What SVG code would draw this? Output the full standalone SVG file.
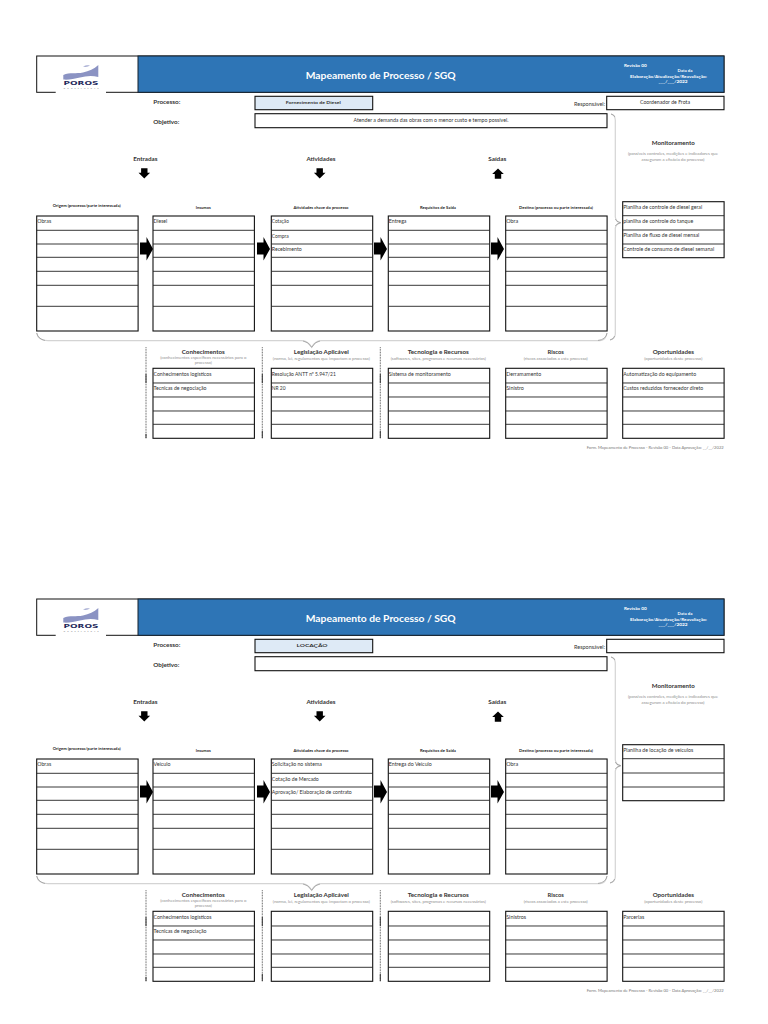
<svg xmlns="http://www.w3.org/2000/svg" width="768" height="1024" viewBox="0 0 768 1024">
<style>
text{font-family:Lato,"Open Sans","Liberation Sans",sans-serif;fill:#222}
.box{fill:#fff;stroke:#111;stroke-width:1.1}
.ln{stroke:#222;stroke-width:.9;fill:none}
.title{font-size:10px;font-weight:700;fill:#fff;text-anchor:middle}
.rev{font-size:3.7px;font-weight:700;fill:#fff;text-anchor:middle}
.lab{font-size:5.6px;font-weight:700;fill:#333}
.c{text-anchor:middle}
.cell{font-size:4.9px;fill:#333}
.val{font-size:4.7px;fill:#333;text-anchor:middle}
.col{font-size:3.5px;font-weight:700;text-anchor:middle}
.sec{font-size:5.8px;font-weight:700;fill:#333;text-anchor:middle}
.sub{font-size:3.6px;fill:#909090;text-anchor:middle}
.foot{font-size:3.6px;fill:#777;text-anchor:end}
.brace{fill:none;stroke:#d4d4d4;stroke-width:1.2}
.braceend{fill:none;stroke:#777;stroke-width:.5}
.dot{stroke:#333;stroke-width:.9;stroke-dasharray:.8 .8;fill:none}
.sol{stroke:#333;stroke-width:1;fill:none}
</style>
<defs>
<g id="t8"><rect class="box" width="101.4" height="115"/><path class="ln" d="M0 14.3H101.4M0 28H101.4M0 41.3H101.4M0 55.3H101.4M0 69.3H101.4M0 90.3H101.4"/></g>
<g id="t5"><rect class="box" width="101.4" height="70"/><path class="ln" d="M0 14.7H101.4M0 28.7H101.4M0 42.7H101.4M0 56H101.4"/></g>
<g id="t4"><rect class="box" width="101.4" height="56"/><path class="ln" d="M0 14H101.4M0 28.3H101.4M0 42.3H101.4"/></g>
<polygon id="big" fill="#000" points="0,5.5 6.5,5.5 6.5,0 13,12 6.5,23.5 6.5,17.5 0,17.5"/>
<polygon id="down" fill="#000" points="-3.2,0 3.2,0 3.2,4.5 5.8,4.5 0,10.2 -5.8,4.5 -3.2,4.5"/>
<polygon id="up" fill="#000" points="0,0 5.8,5.5 3.2,5.5 3.2,10.2 -3.2,10.2 -3.2,5.5 -5.8,5.5"/>
<g id="logo">
<path fill="#8b93c3" d="M63.3 75C70 72 76 74 83 72.5C89 71 94 69 98.3 65L98.3 77C92 75.5 86 76 80 77.5C74 79 68 80 63.3 79.5Z"/>
<path fill="#a9afd4" d="M83 66.5C85 65.2 88 65 90 65.3L88 66.6C86 67 84.5 67 83 66.5Z"/>
<text x="81" y="85" text-anchor="middle" font-size="5.4" font-weight="700" textLength="35" lengthAdjust="spacingAndGlyphs" style="font-family:'DejaVu Sans',sans-serif;fill:#1f2a5c">POROS</text>
<text x="81" y="88.6" text-anchor="middle" font-size="2.6" textLength="35" style="fill:#777">Construtora</text>
</g>
<g id="frame">
<rect x="36.7" y="56" width="687.3" height="36.3" fill="#fff" stroke="#111" stroke-width="1"/>
<rect x="138" y="56" width="586" height="36.3" fill="#2e75b6" stroke="#14202c" stroke-width="1"/>
<rect x="55.7" y="91" width="50.3" height="3" fill="#fff"/>
</g>
</defs>

<g id="page1">
<g id="p1-header">
<use href="#frame"/><use href="#logo"/>
<text class="title" x="380.7" y="78.5" textLength="150" lengthAdjust="spacingAndGlyphs">Mapeamento de Processo / SGQ</text>
<text class="rev" x="635.3" y="67" textLength="22.7" lengthAdjust="spacingAndGlyphs">Revisão 00</text>
<text class="rev" x="685" y="72.3" textLength="15" lengthAdjust="spacingAndGlyphs">Data da</text>
<text class="rev" x="668.5" y="77.6" textLength="77" lengthAdjust="spacingAndGlyphs">Elaboração/Atualização/Reavaliação:</text>
<text class="rev" x="673" y="83" textLength="29" lengthAdjust="spacingAndGlyphs">___/___/2022</text>
</g>
<g id="p1-processo">
<text class="lab" x="153.3" y="104.2" textLength="27" lengthAdjust="spacingAndGlyphs">Processo:</text>
<rect x="255" y="96.3" width="117.7" height="13.4" fill="#deeaf6" stroke="#111" stroke-width="1.1"/>
<text class="val" style="font-weight:700;font-size:4.3px" x="313.3" y="103.8" textLength="55" lengthAdjust="spacingAndGlyphs">Fornecimento de Diesel</text>
</g>
<g id="p1-objetivo">
<text class="lab" x="153.3" y="124.2" textLength="26" lengthAdjust="spacingAndGlyphs">Objetivo:</text>
<rect class="box" x="255" y="113.7" width="352" height="14"/>
<text class="val" x="431" y="121.6" textLength="155" lengthAdjust="spacingAndGlyphs">Atender a demanda das obras com o menor custo e tempo possível.</text>
</g>
<g id="p1-responsavel">
<text class="cell" x="574" y="105.7" textLength="31" lengthAdjust="spacingAndGlyphs">Responsável:</text>
<rect class="box" x="606.7" y="96.3" width="117.3" height="13.4"/>
<text class="val" x="665" y="103.6" textLength="50" lengthAdjust="spacingAndGlyphs">Coordenador de Frota</text>
</g>
<g id="p1-entradas"><text class="lab c" x="145.3" y="160.6" textLength="24.3" lengthAdjust="spacingAndGlyphs">Entradas</text><use href="#down" x="144.3" y="168.3"/></g>
<g id="p1-atividades"><text class="lab c" x="321" y="160.6" textLength="29" lengthAdjust="spacingAndGlyphs">Atividades</text><use href="#down" x="319.7" y="168.3"/></g>
<g id="p1-saidas"><text class="lab c" x="497.3" y="160.6" textLength="18" lengthAdjust="spacingAndGlyphs">Saídas</text><use href="#up" x="498" y="168.5"/></g>
<g id="p1-monitoramento">
<text class="sec" x="673.3" y="144.6" textLength="43" lengthAdjust="spacingAndGlyphs">Monitoramento</text>
<text class="sub" x="673" y="155.2" textLength="90" lengthAdjust="spacingAndGlyphs">(possíveis controles, medições e indicadores que</text>
<text class="sub" x="673" y="160.6" textLength="63" lengthAdjust="spacingAndGlyphs">asseguram a eficácia do processo)</text>
<use href="#t4" x="622.7" y="201.7"/>
<text class="cell" x="623.2" y="209" textLength="79" lengthAdjust="spacingAndGlyphs">Planilha de controle de diesel geral</text>
<text class="cell" x="623.2" y="223.3" textLength="70" lengthAdjust="spacingAndGlyphs">planilha de controle do tanque</text>
<text class="cell" x="623.2" y="237.3" textLength="76" lengthAdjust="spacingAndGlyphs">Planilha de fluxo de diesel mensal</text>
<text class="cell" x="623.2" y="251" textLength="91" lengthAdjust="spacingAndGlyphs">Controle de consumo de diesel semanal</text>
</g>
<g id="p1-origem">
<text class="col" x="86.7" y="206.6" textLength="68" lengthAdjust="spacingAndGlyphs">Origem (processo/parte interessada)</text>
<use href="#t8" x="36.7" y="216"/>
<text class="cell" x="37.2" y="223.4" textLength="14" lengthAdjust="spacingAndGlyphs">Obras</text>
</g>
<g id="p1-insumos">
<text class="col" x="203.3" y="209.3" textLength="15" lengthAdjust="spacingAndGlyphs">Insumos</text>
<use href="#t8" x="153" y="216"/>
<text class="cell" x="153.5" y="223.4" textLength="13.7" lengthAdjust="spacingAndGlyphs">Diesel</text>
</g>
<g id="p1-chave">
<text class="col" x="321" y="209.3" textLength="55" lengthAdjust="spacingAndGlyphs">Atividades chave do processo</text>
<use href="#t8" x="271.3" y="216"/>
<text class="cell" x="271.8" y="223.4" textLength="17" lengthAdjust="spacingAndGlyphs">Cotação</text>
<text class="cell" x="271.8" y="237.7" textLength="17" lengthAdjust="spacingAndGlyphs">Compra</text>
<text class="cell" x="271.8" y="251" textLength="30" lengthAdjust="spacingAndGlyphs">Recebimento</text>
</g>
<g id="p1-requisitos">
<text class="col" x="438" y="209.3" textLength="36" lengthAdjust="spacingAndGlyphs">Requisitos de Saída</text>
<use href="#t8" x="388.3" y="216"/>
<text class="cell" x="388.8" y="223.4" textLength="17.7" lengthAdjust="spacingAndGlyphs">Entrega</text>
</g>
<g id="p1-destino">
<text class="col" x="556" y="209.3" textLength="74" lengthAdjust="spacingAndGlyphs">Destino (processo ou parte interessada)</text>
<use href="#t8" x="505.7" y="216"/>
<text class="cell" x="506.2" y="223.4" textLength="12" lengthAdjust="spacingAndGlyphs">Obra</text>
</g>
<g id="p1-conhecimentos">
<text class="sec" x="203.3" y="354" textLength="43" lengthAdjust="spacingAndGlyphs">Conhecimentos</text>
<text class="sub" x="203.3" y="358.6" textLength="86" lengthAdjust="spacingAndGlyphs">(conhecimentos específicos necessários para o</text>
<text class="sub" x="203.3" y="364" textLength="17" lengthAdjust="spacingAndGlyphs">processo)</text>
<use href="#t5" x="153" y="368.3"/>
<text class="cell" x="153.5" y="376" textLength="58" lengthAdjust="spacingAndGlyphs">Conhecimentos logísticos</text>
<text class="cell" x="153.5" y="390.4" textLength="53" lengthAdjust="spacingAndGlyphs">Tecnicas de negociação</text>
</g>
<g id="p1-legislacao">
<text class="sec" x="321.3" y="354" textLength="55" lengthAdjust="spacingAndGlyphs">Legislação Aplicável</text>
<text class="sub" x="321.3" y="359.6" textLength="97" lengthAdjust="spacingAndGlyphs">(norma, lei, regulamentos que impactam o processo)</text>
<use href="#t5" x="271.3" y="368.3"/>
<text class="cell" x="271.8" y="376" textLength="64" lengthAdjust="spacingAndGlyphs">Resolução ANTT nº 5.947/21</text>
<text class="cell" x="271.8" y="390.4" textLength="13.7" lengthAdjust="spacingAndGlyphs">NR 20</text>
</g>
<g id="p1-tecnologia">
<text class="sec" x="438.3" y="354" textLength="61" lengthAdjust="spacingAndGlyphs">Tecnologia e Recursos</text>
<text class="sub" x="438.3" y="359.6" textLength="95" lengthAdjust="spacingAndGlyphs">(softwares, sites, programas e recursos necessários)</text>
<use href="#t5" x="388.3" y="368.3"/>
<text class="cell" x="388.8" y="376" textLength="62" lengthAdjust="spacingAndGlyphs">Sistema de monitoramento</text>
</g>
<g id="p1-riscos">
<text class="sec" x="555.7" y="354" textLength="16.3" lengthAdjust="spacingAndGlyphs">Riscos</text>
<text class="sub" x="555.7" y="359.6" textLength="64" lengthAdjust="spacingAndGlyphs">(riscos associados a este processo)</text>
<use href="#t5" x="505.7" y="368.3"/>
<text class="cell" x="506.2" y="376" textLength="35" lengthAdjust="spacingAndGlyphs">Derramamento</text>
<text class="cell" x="506.2" y="390.4" textLength="17.7" lengthAdjust="spacingAndGlyphs">Sinistro</text>
</g>
<g id="p1-oportunidades">
<text class="sec" x="673.3" y="354" textLength="41.3" lengthAdjust="spacingAndGlyphs">Oportunidades</text>
<text class="sub" x="673.3" y="359.6" textLength="58" lengthAdjust="spacingAndGlyphs">(oportunidades deste processo)</text>
<use href="#t5" x="622.7" y="368.3"/>
<text class="cell" x="623.2" y="376" textLength="73" lengthAdjust="spacingAndGlyphs">Automatização do equipamento</text>
<text class="cell" x="623.2" y="390.4" textLength="80" lengthAdjust="spacingAndGlyphs">Custos reduzidos fornecedor direto</text>
</g>
<text class="foot" x="723.7" y="448.9" textLength="137" lengthAdjust="spacingAndGlyphs">Form. Mapeamento de Processo - Revisão 00 - Data Aprovação: __/__/2022</text>
<g id="p1-connectors">
<use href="#big" x="140" y="237"/><use href="#big" x="257" y="237"/><use href="#big" x="374" y="237"/><use href="#big" x="491" y="237"/>
<path class="brace" d="M36.7 333Q38 340.7 48 340.7H302Q308 341 311.7 347.3Q315 341 321 340.7H600Q606 340 607 333"/>
<path class="braceend" d="M36.7 333Q38 339 45 340.4M303 341Q308 341.5 311.7 347.3Q315 341.5 320 341M598 340.4Q606 339.5 607 333"/>
<path class="brace" d="M611 114Q615 115 615.3 120V217Q616 222 620.7 222.7Q616 224 615.3 228V334Q615 339 610 340"/>
<path class="braceend" d="M611 114Q614 114.6 615 117M615.3 219Q616 222 620.7 222.7Q616 224 615.3 226M614.6 336Q614 339 610 340"/>
<path class="dot" d="M146 347.3V438.3M262.3 347.3V438.3M380.3 347.3V438.3"/>
<path class="sol" d="M146 374V383M146 434V438.3M262.3 374V383M262.3 431V438.3M380.3 374V383M380.3 431V438.3"/>
</g>
</g>

<g id="page2" transform="translate(0,543)">
<g id="p2-header">
<use href="#frame"/><use href="#logo"/>
<text class="title" x="380.7" y="78.5" textLength="150" lengthAdjust="spacingAndGlyphs">Mapeamento de Processo / SGQ</text>
<text class="rev" x="635.3" y="67" textLength="22.7" lengthAdjust="spacingAndGlyphs">Revisão 00</text>
<text class="rev" x="685" y="72.3" textLength="15" lengthAdjust="spacingAndGlyphs">Data da</text>
<text class="rev" x="668.5" y="77.6" textLength="77" lengthAdjust="spacingAndGlyphs">Elaboração/Atualização/Reavaliação:</text>
<text class="rev" x="673" y="83" textLength="29" lengthAdjust="spacingAndGlyphs">___/___/2022</text>
</g>
<g id="p2-processo">
<text class="lab" x="153.3" y="104.2" textLength="27" lengthAdjust="spacingAndGlyphs">Processo:</text>
<rect x="255" y="96.3" width="117.7" height="13.4" fill="#deeaf6" stroke="#111" stroke-width="1.1"/>
<text class="val" style="font-weight:700;font-size:3.8px" x="312" y="103.6" textLength="31" lengthAdjust="spacingAndGlyphs">LOCAÇÃO</text>
</g>
<g id="p2-objetivo">
<text class="lab" x="153.3" y="124.2" textLength="26" lengthAdjust="spacingAndGlyphs">Objetivo:</text>
<rect class="box" x="255" y="113.7" width="352" height="14"/>
</g>
<g id="p2-responsavel">
<text class="cell" x="574" y="105.7" textLength="31" lengthAdjust="spacingAndGlyphs">Responsável:</text>
<rect class="box" x="606.7" y="96.3" width="117.3" height="13.4"/>
</g>
<g id="p2-entradas"><text class="lab c" x="145.3" y="160.6" textLength="24.3" lengthAdjust="spacingAndGlyphs">Entradas</text><use href="#down" x="144.3" y="168.3"/></g>
<g id="p2-atividades"><text class="lab c" x="321" y="160.6" textLength="29" lengthAdjust="spacingAndGlyphs">Atividades</text><use href="#down" x="319.7" y="168.3"/></g>
<g id="p2-saidas"><text class="lab c" x="497.3" y="160.6" textLength="18" lengthAdjust="spacingAndGlyphs">Saídas</text><use href="#up" x="498" y="168.5"/></g>
<g id="p2-monitoramento">
<text class="sec" x="673.3" y="144.6" textLength="43" lengthAdjust="spacingAndGlyphs">Monitoramento</text>
<text class="sub" x="673" y="155.2" textLength="90" lengthAdjust="spacingAndGlyphs">(possíveis controles, medições e indicadores que</text>
<text class="sub" x="673" y="160.6" textLength="63" lengthAdjust="spacingAndGlyphs">asseguram a eficácia do processo)</text>
<use href="#t4" x="622.7" y="201.7"/>
<text class="cell" x="623.2" y="209" textLength="70" lengthAdjust="spacingAndGlyphs">Planilha de locação de veículos</text>
</g>
<g id="p2-origem">
<text class="col" x="86.7" y="206.6" textLength="68" lengthAdjust="spacingAndGlyphs">Origem (processo/parte interessada)</text>
<use href="#t8" x="36.7" y="216"/>
<text class="cell" x="37.2" y="223.4" textLength="14" lengthAdjust="spacingAndGlyphs">Obras</text>
</g>
<g id="p2-insumos">
<text class="col" x="203.3" y="209.3" textLength="15" lengthAdjust="spacingAndGlyphs">Insumos</text>
<use href="#t8" x="153" y="216"/>
<text class="cell" x="153.5" y="223.4" textLength="17" lengthAdjust="spacingAndGlyphs">Veículo</text>
</g>
<g id="p2-chave">
<text class="col" x="321" y="209.3" textLength="55" lengthAdjust="spacingAndGlyphs">Atividades chave do processo</text>
<use href="#t8" x="271.3" y="216"/>
<text class="cell" x="271.8" y="223.4" textLength="50" lengthAdjust="spacingAndGlyphs">Solicitação no sistema</text>
<text class="cell" x="271.8" y="237.7" textLength="47" lengthAdjust="spacingAndGlyphs">Cotação de Mercado</text>
<text class="cell" x="271.8" y="251" textLength="80" lengthAdjust="spacingAndGlyphs">Aprovação/ Elaboração de contrato</text>
</g>
<g id="p2-requisitos">
<text class="col" x="438" y="209.3" textLength="36" lengthAdjust="spacingAndGlyphs">Requisitos de Saída</text>
<use href="#t8" x="388.3" y="216"/>
<text class="cell" x="388.8" y="223.4" textLength="43" lengthAdjust="spacingAndGlyphs">Entrega do Veículo</text>
</g>
<g id="p2-destino">
<text class="col" x="556" y="209.3" textLength="74" lengthAdjust="spacingAndGlyphs">Destino (processo ou parte interessada)</text>
<use href="#t8" x="505.7" y="216"/>
<text class="cell" x="506.2" y="223.4" textLength="12" lengthAdjust="spacingAndGlyphs">Obra</text>
</g>
<g id="p2-conhecimentos">
<text class="sec" x="203.3" y="354" textLength="43" lengthAdjust="spacingAndGlyphs">Conhecimentos</text>
<text class="sub" x="203.3" y="358.6" textLength="86" lengthAdjust="spacingAndGlyphs">(conhecimentos específicos necessários para o</text>
<text class="sub" x="203.3" y="364" textLength="17" lengthAdjust="spacingAndGlyphs">processo)</text>
<use href="#t5" x="153" y="368.3"/>
<text class="cell" x="153.5" y="376" textLength="58" lengthAdjust="spacingAndGlyphs">Conhecimentos logísticos</text>
<text class="cell" x="153.5" y="390.4" textLength="53" lengthAdjust="spacingAndGlyphs">Tecnicas de negociação</text>
</g>
<g id="p2-legislacao">
<text class="sec" x="321.3" y="354" textLength="55" lengthAdjust="spacingAndGlyphs">Legislação Aplicável</text>
<text class="sub" x="321.3" y="359.6" textLength="97" lengthAdjust="spacingAndGlyphs">(norma, lei, regulamentos que impactam o processo)</text>
<use href="#t5" x="271.3" y="368.3"/>
</g>
<g id="p2-tecnologia">
<text class="sec" x="438.3" y="354" textLength="61" lengthAdjust="spacingAndGlyphs">Tecnologia e Recursos</text>
<text class="sub" x="438.3" y="359.6" textLength="95" lengthAdjust="spacingAndGlyphs">(softwares, sites, programas e recursos necessários)</text>
<use href="#t5" x="388.3" y="368.3"/>
</g>
<g id="p2-riscos">
<text class="sec" x="555.7" y="354" textLength="16.3" lengthAdjust="spacingAndGlyphs">Riscos</text>
<text class="sub" x="555.7" y="359.6" textLength="64" lengthAdjust="spacingAndGlyphs">(riscos associados a este processo)</text>
<use href="#t5" x="505.7" y="368.3"/>
<text class="cell" x="506.2" y="376" textLength="20" lengthAdjust="spacingAndGlyphs">Sinistros</text>
</g>
<g id="p2-oportunidades">
<text class="sec" x="673.3" y="354" textLength="41.3" lengthAdjust="spacingAndGlyphs">Oportunidades</text>
<text class="sub" x="673.3" y="359.6" textLength="58" lengthAdjust="spacingAndGlyphs">(oportunidades deste processo)</text>
<use href="#t5" x="622.7" y="368.3"/>
<text class="cell" x="623.2" y="376" textLength="21" lengthAdjust="spacingAndGlyphs">Parcerias</text>
</g>
<text class="foot" x="723.7" y="448.9" textLength="137" lengthAdjust="spacingAndGlyphs">Form. Mapeamento de Processo - Revisão 00 - Data Aprovação: __/__/2022</text>
<g id="p2-connectors">
<use href="#big" x="140" y="237"/><use href="#big" x="257" y="237"/><use href="#big" x="374" y="237"/><use href="#big" x="491" y="237"/>
<path class="brace" d="M36.7 333Q38 340.7 48 340.7H302Q308 341 311.7 347.3Q315 341 321 340.7H600Q606 340 607 333"/>
<path class="braceend" d="M36.7 333Q38 339 45 340.4M303 341Q308 341.5 311.7 347.3Q315 341.5 320 341M598 340.4Q606 339.5 607 333"/>
<path class="brace" d="M611 114Q615 115 615.3 120V217Q616 222 620.7 222.7Q616 224 615.3 228V334Q615 339 610 340"/>
<path class="braceend" d="M611 114Q614 114.6 615 117M615.3 219Q616 222 620.7 222.7Q616 224 615.3 226M614.6 336Q614 339 610 340"/>
<path class="dot" d="M146 347.3V438.3M262.3 347.3V438.3M380.3 347.3V438.3"/>
<path class="sol" d="M146 374V383M146 434V438.3M262.3 374V383M262.3 431V438.3M380.3 374V383M380.3 431V438.3"/>
</g>
</g>
</svg>
